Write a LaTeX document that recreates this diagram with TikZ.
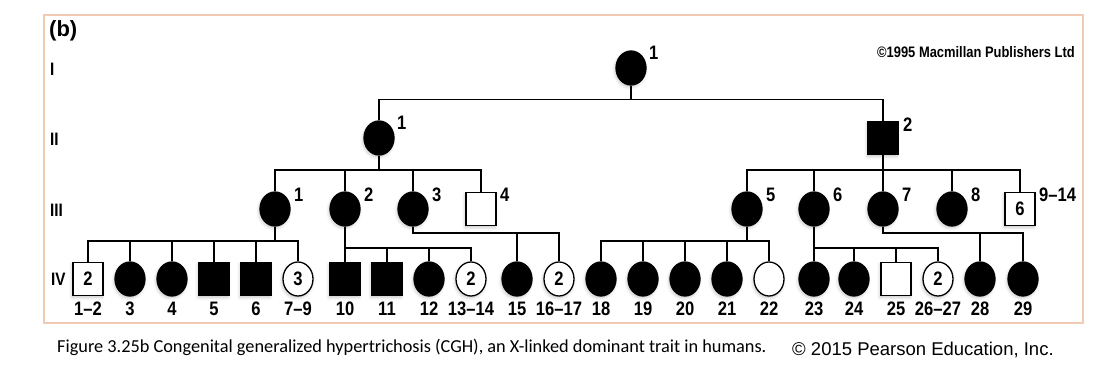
\documentclass[tikz,border=0pt]{standalone}
\usepackage{fontspec}
\setmainfont{Liberation Sans}
\newfontfamily\pedfont{Liberation Sans}[FakeStretch=0.85]
\newfontfamily\capfont{Carlito}
\usetikzlibrary{shapes.geometric,shadows.blur}
\definecolor{framec}{RGB}{240,202,178}
\begin{document}
\begin{tikzpicture}[x=1pt,y=-1pt,
  sh/.style={blur shadow={shadow xshift=-1pt,shadow yshift=-2pt,shadow blur radius=3pt,shadow opacity=22}},
  fem/.style={ellipse,draw,line width=1.3pt,minimum width=30pt,minimum height=34pt,inner sep=0pt,fill=white,sh,font=\pedfont\bfseries\fontsize{19.5}{19.5}\selectfont},
  mal/.style={rectangle,draw,line width=1.3pt,minimum width=30pt,minimum height=33pt,inner sep=0pt,fill=white,sh,font=\pedfont\bfseries\fontsize{19.5}{19.5}\selectfont},
  aff/.style={fill=black},
  num/.style={inner sep=0pt,font=\pedfont\bfseries\fontsize{19.5}{19.5}\selectfont},
  gen/.style={inner sep=0pt,anchor=west,font=\pedfont\bfseries\fontsize{18}{18}\selectfont},
  ln/.style={line width=1.3pt}]
\useasboundingbox (0,0) rectangle (1116,382);
\draw[framec,line width=2.6pt] (44,15) rectangle (1083,323);
\node[inner sep=0pt,anchor=west,font=\bfseries\fontsize{22}{22}\selectfont] (b) at (49,31) {(b)};
\node[inner sep=0pt,anchor=east,font=\pedfont\bfseries\fontsize{15.2}{15.2}\selectfont] (mac) at (1075,52) {©1995 Macmillan Publishers Ltd};
\node[gen] (gI) at (50,69) {I};
\node[gen] (gII) at (50,139) {II};
\node[gen] (gIII) at (50,210) {III};
\node[gen] (gIV) at (51,279) {IV};
% generation I
\node[fem,aff] (I1) at (631,68) {};
\node[num,anchor=west] (I1l) at (649,53) {1};
% generation II
\node[fem,aff] (II1) at (379,138) {};
\node[num,anchor=west] (II1l) at (397,123) {1};
\node[mal,aff] (II2) at (883,138) {};
\node[num,anchor=west] (II2l) at (903,125) {2};
% generation III
\node[fem,aff] (III1) at (275,209) {};
\node[fem,aff] (III2) at (345,209) {};
\node[fem,aff] (III3) at (413,209) {};
\node[mal] (III4) at (481,209) {};
\node[fem,aff] (III5) at (747,209) {};
\node[fem,aff] (III6) at (814,209) {};
\node[fem,aff] (III7) at (883,209) {};
\node[fem,aff] (III8) at (952,209) {};
\node[mal] (III9) at (1020,209) {6};
\node[num,anchor=west] (III1l) at (294,195) {1};
\node[num,anchor=west] (III2l) at (364,195) {2};
\node[num,anchor=west] (III3l) at (432,195) {3};
\node[num,anchor=west] (III4l) at (500,195) {4};
\node[num,anchor=west] (III5l) at (766,195) {5};
\node[num,anchor=west] (III6l) at (833,195) {6};
\node[num,anchor=west] (III7l) at (902,195) {7};
\node[num,anchor=west] (III8l) at (971,195) {8};
\node[num,anchor=west] (III9l) at (1039,195) {9–14};
% generation IV
\node[mal] (IV1) at (88,279) {2};
\node[fem,aff] (IV3) at (130,279) {};
\node[fem,aff] (IV4) at (172,279) {};
\node[mal,aff] (IV5) at (214,279) {};
\node[mal,aff] (IV6) at (256,279) {};
\node[fem] (IV7) at (298,279) {3};
\node[mal,aff] (IV10) at (345,279) {};
\node[mal,aff] (IV11) at (387,279) {};
\node[fem,aff] (IV12) at (429,279) {};
\node[fem] (IV13) at (471,279) {2};
\node[fem,aff] (IV15) at (517,279) {};
\node[fem] (IV16) at (559,279) {2};
\node[fem,aff] (IV18) at (601,279) {};
\node[fem,aff] (IV19) at (643,279) {};
\node[fem,aff] (IV20) at (685,279) {};
\node[fem,aff] (IV21) at (727,279) {};
\node[fem] (IV22) at (769,279) {};
\node[fem,aff] (IV23) at (814,279) {};
\node[fem,aff] (IV24) at (854,279) {};
\node[mal] (IV25) at (896,279) {};
\node[fem] (IV26) at (938,279) {2};
\node[fem,aff] (IV28) at (980,279) {};
\node[fem,aff] (IV29) at (1023,279) {};
\foreach \n/\t in {1/1–2,3/3,4/4,5/5,6/6,7/7–9,10/10,11/11,12/12,13/13–14,15/15,16/16–17,18/18,19/19,20/20,21/21,22/22,23/23,24/24,25/25,26/26–27,28/28,29/29}
  \node[num] (IV\n l) at (IV\n |- 0,309) {\t};
% connectors
\coordinate (fI) at (631,99.5);
\draw[ln] (I1) -- (fI);
\draw[ln] (II1) |- (fI) -| (II2);
\coordinate (fII1) at (379,170);
\draw[ln] (II1) -- (fII1);
\draw[ln] (III1) |- (fII1) -| (III4);
\foreach \n in {III2,III3} \draw[ln] (\n) -- (\n |- fII1);
\coordinate (fII2) at (883,170);
\draw[ln] (II2) -- (fII2);
\draw[ln] (III5) |- (fII2) -| (III9);
\foreach \n in {III6,III7,III8} \draw[ln] (\n) -- (\n |- fII2);
% III1 family
\coordinate (f31) at (275,241);
\draw[ln] (III1) -- (f31);
\draw[ln] (IV1) |- (f31) -| (IV7);
\foreach \n in {IV3,IV4,IV5,IV6} \draw[ln] (\n) -- (\n |- f31);
% III2 family
\coordinate (f32) at (345,248);
\draw[ln] (III2) -- (IV10);
\draw[ln] (f32) -| (IV13);
\foreach \n in {IV11,IV12} \draw[ln] (\n) -- (\n |- f32);
% III3 family
\coordinate (f33) at (413,233);
\draw[ln] (III3) -- (f33) -| (IV16);
\draw[ln] (IV15) -- (IV15 |- f33);
% III5 family
\coordinate (f35) at (747,241);
\draw[ln] (III5) -- (f35);
\draw[ln] (IV18) |- (f35) -| (IV22);
\foreach \n in {IV19,IV20,IV21} \draw[ln] (\n) -- (\n |- f35);
% III6 family
\coordinate (f36) at (814,248);
\draw[ln] (III6) -- (IV23);
\draw[ln] (f36) -| (IV26);
\foreach \n in {IV24,IV25} \draw[ln] (\n) -- (\n |- f36);
% III7 family
\coordinate (f37) at (883,233);
\draw[ln] (III7) -- (f37) -| (IV29);
\draw[ln] (IV28) -- (IV28 |- f37);
% captions
\node[inner sep=0pt,anchor=west,font=\capfont\fontsize{18.3}{18.3}\selectfont] (cap) at (57,347) {Figure 3.25b Congenital generalized hypertrichosis (CGH), an X-linked dominant trait in humans.};
\node[inner sep=0pt,anchor=west,font=\fontsize{18.5}{18.5}\selectfont] (pear) at (792,350) {© 2015 Pearson Education, Inc.};
\end{tikzpicture}
\end{document}
